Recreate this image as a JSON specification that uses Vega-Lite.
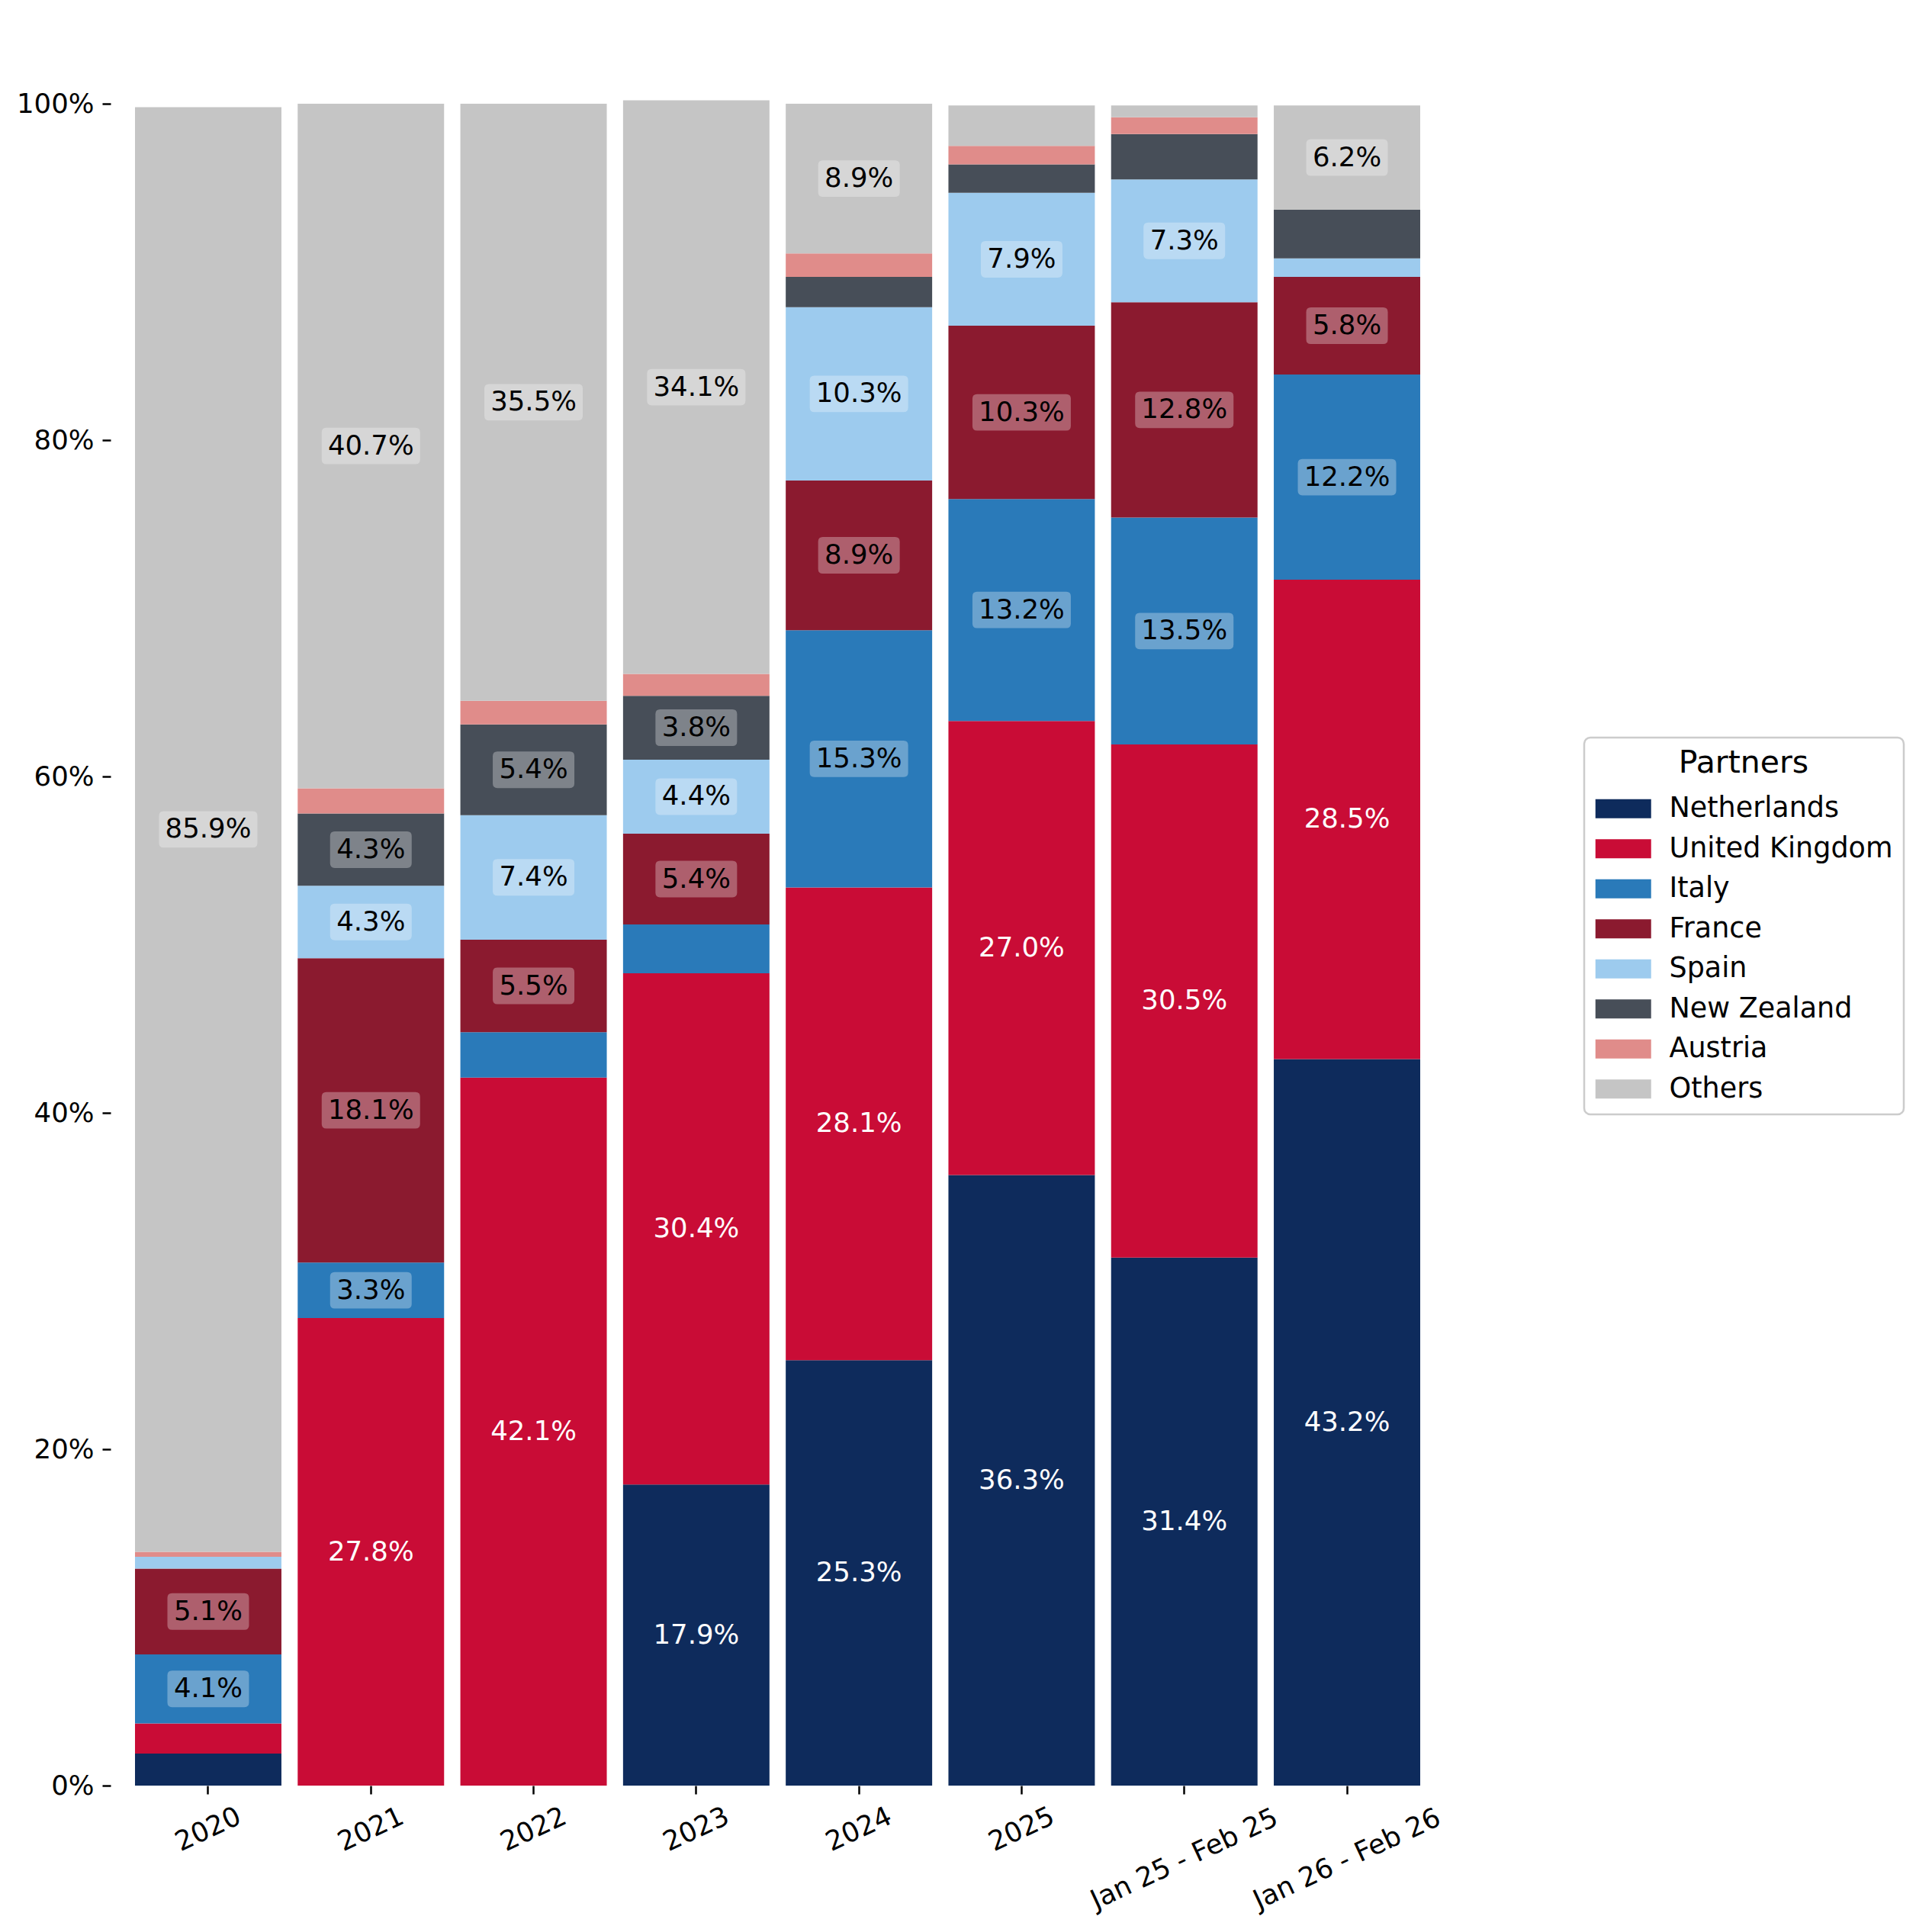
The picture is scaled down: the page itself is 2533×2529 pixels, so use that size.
{
  "$schema": "https://vega.github.io/schema/vega-lite/v6.json",
  "width": 1749,
  "height": 2205,
  "autosize": {"type": "none"},
  "padding": {"left": 145, "top": 136, "right": 639, "bottom": 188},
  "background": "white",
  "config": {
    "view": {"stroke": null},
    "font": "DejaVu Sans",
    "legend": {"strokeWidth": 2.5}
  },
  "data": {
    "values": [
      {"Period": "2020", "Partner": "Netherlands", "Share": 1.9},
      {"Period": "2020", "Partner": "United Kingdom", "Share": 1.8},
      {"Period": "2020", "Partner": "Italy", "Share": 4.1},
      {"Period": "2020", "Partner": "France", "Share": 5.1},
      {"Period": "2020", "Partner": "Spain", "Share": 0.7},
      {"Period": "2020", "Partner": "Austria", "Share": 0.3},
      {"Period": "2020", "Partner": "Others", "Share": 85.9},
      {"Period": "2021", "Partner": "United Kingdom", "Share": 27.8},
      {"Period": "2021", "Partner": "Italy", "Share": 3.3},
      {"Period": "2021", "Partner": "France", "Share": 18.1},
      {"Period": "2021", "Partner": "Spain", "Share": 4.3},
      {"Period": "2021", "Partner": "New Zealand", "Share": 4.3},
      {"Period": "2021", "Partner": "Austria", "Share": 1.5},
      {"Period": "2021", "Partner": "Others", "Share": 40.7},
      {"Period": "2022", "Partner": "United Kingdom", "Share": 42.1},
      {"Period": "2022", "Partner": "Italy", "Share": 2.7},
      {"Period": "2022", "Partner": "France", "Share": 5.5},
      {"Period": "2022", "Partner": "Spain", "Share": 7.4},
      {"Period": "2022", "Partner": "New Zealand", "Share": 5.4},
      {"Period": "2022", "Partner": "Austria", "Share": 1.4},
      {"Period": "2022", "Partner": "Others", "Share": 35.5},
      {"Period": "2023", "Partner": "Netherlands", "Share": 17.9},
      {"Period": "2023", "Partner": "United Kingdom", "Share": 30.4},
      {"Period": "2023", "Partner": "Italy", "Share": 2.9},
      {"Period": "2023", "Partner": "France", "Share": 5.4},
      {"Period": "2023", "Partner": "Spain", "Share": 4.4},
      {"Period": "2023", "Partner": "New Zealand", "Share": 3.8},
      {"Period": "2023", "Partner": "Austria", "Share": 1.3},
      {"Period": "2023", "Partner": "Others", "Share": 34.1},
      {"Period": "2024", "Partner": "Netherlands", "Share": 25.3},
      {"Period": "2024", "Partner": "United Kingdom", "Share": 28.1},
      {"Period": "2024", "Partner": "Italy", "Share": 15.3},
      {"Period": "2024", "Partner": "France", "Share": 8.9},
      {"Period": "2024", "Partner": "Spain", "Share": 10.3},
      {"Period": "2024", "Partner": "New Zealand", "Share": 1.8},
      {"Period": "2024", "Partner": "Austria", "Share": 1.4},
      {"Period": "2024", "Partner": "Others", "Share": 8.9},
      {"Period": "2025", "Partner": "Netherlands", "Share": 36.3},
      {"Period": "2025", "Partner": "United Kingdom", "Share": 27.0},
      {"Period": "2025", "Partner": "Italy", "Share": 13.2},
      {"Period": "2025", "Partner": "France", "Share": 10.3},
      {"Period": "2025", "Partner": "Spain", "Share": 7.9},
      {"Period": "2025", "Partner": "New Zealand", "Share": 1.7},
      {"Period": "2025", "Partner": "Austria", "Share": 1.1},
      {"Period": "2025", "Partner": "Others", "Share": 2.4},
      {"Period": "Jan 25 - Feb 25", "Partner": "Netherlands", "Share": 31.4},
      {"Period": "Jan 25 - Feb 25", "Partner": "United Kingdom", "Share": 30.5},
      {"Period": "Jan 25 - Feb 25", "Partner": "Italy", "Share": 13.5},
      {"Period": "Jan 25 - Feb 25", "Partner": "France", "Share": 12.8},
      {"Period": "Jan 25 - Feb 25", "Partner": "Spain", "Share": 7.3},
      {"Period": "Jan 25 - Feb 25", "Partner": "New Zealand", "Share": 2.7},
      {"Period": "Jan 25 - Feb 25", "Partner": "Austria", "Share": 1.0},
      {"Period": "Jan 25 - Feb 25", "Partner": "Others", "Share": 0.7},
      {"Period": "Jan 26 - Feb 26", "Partner": "Netherlands", "Share": 43.2},
      {"Period": "Jan 26 - Feb 26", "Partner": "United Kingdom", "Share": 28.5},
      {"Period": "Jan 26 - Feb 26", "Partner": "Italy", "Share": 12.2},
      {"Period": "Jan 26 - Feb 26", "Partner": "France", "Share": 5.8},
      {"Period": "Jan 26 - Feb 26", "Partner": "Spain", "Share": 1.1},
      {"Period": "Jan 26 - Feb 26", "Partner": "New Zealand", "Share": 2.9},
      {"Period": "Jan 26 - Feb 26", "Partner": "Others", "Share": 6.2}
    ]
  },
  "transform": [
    {"calculate": "indexof(['Netherlands','United Kingdom','Italy','France','Spain','New Zealand','Austria','Others'], datum.Partner)", "as": "rank"},
    {"stack": "Share", "groupby": ["Period"], "sort": [{"field": "rank", "order": "ascending"}], "as": ["y0", "y1"]},
    {"calculate": "(datum.y0 + datum.y1) / 2", "as": "mid"},
    {"calculate": "format(datum.Share, '.1f') + '%'", "as": "label"}
  ],
  "encoding": {
    "x": {
      "field": "Period",
      "type": "nominal",
      "sort": ["2020", "2021", "2022", "2023", "2024", "2025", "Jan 25 - Feb 25", "Jan 26 - Feb 26"],
      "scale": {"paddingInner": 0.1, "paddingOuter": 0.15},
      "axis": {
        "title": null,
        "domain": false,
        "grid": false,
        "ticks": true,
        "tickSize": 11,
        "tickWidth": 2.5,
        "tickColor": "black",
        "labelAngle": -25,
        "labelAlign": "center",
        "labelBaseline": "middle",
        "labelPadding": {"condition": {"test": "length(datum.label) > 6", "value": 85}, "value": 46},
        "labelFont": "DejaVu Sans",
        "labelFontSize": 35.5,
        "labelColor": "black",
        "labelLimit": 600,
        "labelOverlap": false
      }
    }
  },
  "layer": [
    {
      "mark": {"type": "bar"},
      "encoding": {
        "y": {
          "field": "y0",
          "type": "quantitative",
          "scale": {"domain": [0, 100], "nice": false, "zero": true},
          "axis": {
            "title": null,
            "domain": false,
            "grid": false,
            "values": [0, 20, 40, 60, 80, 100],
            "labelExpr": "datum.value + '%'",
            "tickSize": 11,
            "tickWidth": 2.5,
            "tickColor": "black",
            "labelPadding": 11,
            "labelFont": "DejaVu Sans",
            "labelFontSize": 35.5,
            "labelColor": "black"
          }
        },
        "y2": {"field": "y1"},
        "color": {
          "field": "Partner",
          "type": "nominal",
          "title": "Partners",
          "scale": {
            "domain": ["Netherlands", "United Kingdom", "Italy", "France", "Spain", "New Zealand", "Austria", "Others"],
            "range": ["#0E2B5C", "#C90C36", "#2A7AB9", "#8B1A2F", "#9DCBEE", "#474E58", "#E08C8A", "#C5C5C5"]
          },
          "legend": {
            "orient": "none",
            "legendX": 1932,
            "legendY": 831,
            "titleFont": "DejaVu Sans",
            "titleFontSize": 41,
            "titleFontWeight": "normal",
            "titleColor": "black",
            "titleAnchor": "middle",
            "titleAlign": "center",
            "titlePadding": 20,
            "labelFont": "DejaVu Sans",
            "labelFontSize": 36.5,
            "labelColor": "black",
            "labelLimit": 500,
            "symbolType": "M-2.92,-1L2.92,-1L2.92,1L-2.92,1Z",
            "symbolSize": 625,
            "symbolStrokeWidth": 0,
            "symbolOpacity": 1,
            "symbolOffset": 19,
            "labelOffset": 42,
            "rowPadding": 15.5,
            "padding": 14,
            "strokeColor": "#cccccc",
            "fillColor": "white",
            "cornerRadius": 8
          }
        }
      }
    },
    {
      "transform": [{"filter": "datum.Share >= 3 && datum.rank >= 2"}],
      "mark": {"type": "point", "filled": true, "fill": "white", "opacity": 0.3, "strokeWidth": 0},
      "encoding": {
        "y": {"field": "mid", "type": "quantitative", "title": null},
        "shape": {
          "condition": {"test": "length(datum.label) >= 5", "value": "M-0.906,-0.37L0.906,-0.37Q1,-0.37 1,-0.276L1,0.276Q1,0.37 0.906,0.37L-0.906,0.37Q-1,0.37 -1,0.276L-1,-0.276Q-1,-0.37 -0.906,-0.37Z"},
          "value": "M-0.886,-0.448L0.886,-0.448Q1,-0.448 1,-0.334L1,0.334Q1,0.448 0.886,0.448L-0.886,0.448Q-1,0.448 -1,0.334L-1,-0.334Q-1,-0.448 -0.886,-0.448Z"
        },
        "size": {
          "condition": {"test": "length(datum.label) >= 5", "value": 16641},
          "value": 11449
        }
      }
    },
    {
      "transform": [{"filter": "datum.Share >= 3"}],
      "mark": {"type": "text", "font": "DejaVu Sans", "fontSize": 35.5, "baseline": "middle", "align": "center"},
      "encoding": {
        "y": {"field": "mid", "type": "quantitative", "title": null},
        "text": {"field": "label"},
        "color": {
          "condition": {"test": "datum.rank < 2", "value": "white"},
          "value": "black"
        }
      }
    }
  ]
}
